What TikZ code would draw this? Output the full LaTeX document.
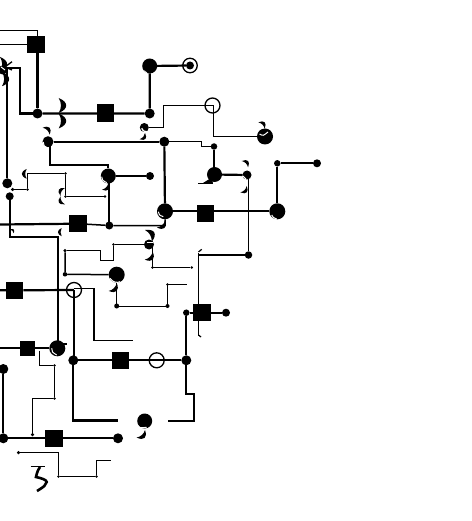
\documentclass[tikz,border=0pt]{standalone}
\usepackage{xcolor}
\usepackage{tikz}
\usetikzlibrary{shapes,arrows,positioning,calc}

\begin{document}
\begin{tikzpicture}[x=1pt,y=-1pt,
    sqbox/.style={fill=black,minimum size=17.5pt,inner sep=0pt,outer sep=0pt},
    bigdot/.style={circle,fill=black,minimum size=16pt,inner sep=0pt,outer sep=0pt},
    dot/.style={circle,fill=black,minimum size=10pt,inner sep=0pt,outer sep=0pt},
    smalldot/.style={circle,fill=black,minimum size=6.5pt,inner sep=0pt,outer sep=0pt},
    tinydot/.style={circle,fill=black,minimum size=2.6pt,inner sep=0pt,outer sep=0pt},
    ringnode/.style={circle,draw=black,line width=1.3pt,minimum size=15pt,inner sep=0pt,outer sep=0pt},
    heavy/.style={line width=2.2pt},
    medium/.style={line width=1.5pt},
    fine/.style={line width=1pt},
    glint/.style={white,line width=1pt},
    hook/.pic={\fill (0,0) .. controls (10,4) and (10,11) .. (0,15) .. controls (3,10) and (3,5) .. (0,0);}]
    \useasboundingbox (0,0) rectangle (471,521);
    % squares
    \node[sqbox] (sqa) at (36,44.5) {};
    \node[sqbox] (sqb) at (105.5,113) {};
    \node[sqbox] (sqc) at (78,223.7) {};
    \node[sqbox] (sqd) at (205.3,213.5) {};
    \node[sqbox] (sqe) at (14.7,290.3) {};
    \node[sqbox,minimum size=15pt] (sqf) at (27.3,348.3) {};
    \node[sqbox] (sqg) at (120.7,360.3) {};
    \node[sqbox] (sqh) at (202,312.7) {};
    \node[sqbox] (sqi) at (54,438.3) {};
    % dots
    \node[dot] (na) at (37.5,113.5) {};
    \node[dot] (nb) at (149.7,113.5) {};
    \node[bigdot,minimum size=15pt] (nc) at (149.7,66) {};
    \node[smalldot,minimum size=8pt] (nd) at (190,65.5) {};
    \node[ringnode,minimum size=14.5pt] (ne) at (190,65.5) {};
    \node[smalldot,minimum size=9pt] (nf) at (144.3,127.5) {};
    \node[ringnode] (ng) at (212.5,105.5) {};
    \node[bigdot] (nh) at (265,136.5) {};
    \node[dot,minimum size=11pt] (ni) at (48,141.7) {};
    \node[dot] (nj) at (164.3,141.7) {};
    \node[smalldot] (nk) at (214,146.5) {};
    \node[bigdot,minimum size=15pt] (nl) at (214.5,174.5) {};
    \node[dot,minimum size=9pt] (nm) at (247,175) {};
    \node[bigdot,minimum size=15pt] (nn) at (108.3,176) {};
    \node[smalldot,minimum size=8pt] (no) at (150,176) {};
    \node[dot] (np) at (7.3,183.3) {};
    \node[smalldot,minimum size=8pt] (nq) at (9.7,196.3) {};
    \node[bigdot] (nr) at (165,211.3) {};
    \node[bigdot] (ns) at (277.3,211.3) {};
    \node[smalldot] (nt) at (277.3,163.3) {};
    \node[smalldot,minimum size=8pt] (nu) at (317,163.3) {};
    \node[smalldot,minimum size=7.5pt] (nv) at (248.5,255) {};
    \node[dot,minimum size=8pt] (nw) at (109.3,225.5) {};
    \node[dot,minimum size=10pt] (nza) at (149,244.5) {};
    \node[bigdot] (nx) at (116.7,274.7) {};
    \node[ringnode] (ny) at (74,290) {};
    \node[bigdot] (nz) at (57.3,348.3) {};
    \node[dot] (oa) at (73.3,360.3) {};
    \node[dot] (ob) at (186.3,360.3) {};
    \node[ringnode] (oc) at (156.7,360.3) {};
    \node[smalldot] (od) at (186.3,312.7) {};
    \node[smalldot,minimum size=8pt] (oe) at (226,312.7) {};
    \node[smalldot,minimum size=5pt] (of) at (116.7,306) {};
    \node[smalldot,minimum size=4pt] (og) at (167.5,306) {};
    \node[bigdot,minimum size=15pt] (oh) at (144.7,421) {};
    \node[dot] (oi) at (3.3,369) {};
    \node[dot] (oj) at (3.3,438.3) {};
    \node[dot] (ok) at (118,438.3) {};
    \node[dot,minimum size=9pt] (ola) at (2.5,70) {};
    \node[tinydot,minimum size=3.5pt] (ol) at (18.5,452.5) {};
    \node[tinydot,minimum size=4.5pt] (om) at (65,274.3) {};
    \node[tinydot,minimum size=3.5pt] (op) at (65,250.7) {};
    \node[tinydot,minimum size=3.5pt] (oq) at (32.5,434.5) {};
    \node[tinydot] (or) at (65.5,173.5) {};
    \node[tinydot] (os) at (65.5,196.5) {};
    \node[tinydot] (ot) at (27.5,189.5) {};
    \node[tinydot,minimum size=3.5pt] (ou) at (12.7,189.5) {};
    \node[tinydot] (ov) at (105,196.5) {};
    \node[tinydot] (ow) at (113.5,244.5) {};
    \node[tinydot] (ox) at (152.5,267.5) {};
    \node[tinydot] (oy) at (191.7,267.5) {};
    \node[tinydot] (oz) at (167.5,284.5) {};
    \node[tinydot] (pa) at (96.5,476.5) {};
    \node[tinydot] (pb) at (58.5,476.5) {};
    \node[tinydot] (pc) at (54.5,398.5) {};
    \node[tinydot] (pd) at (54.5,365.5) {};
    % free ends
    \coordinate (ca) at (0,30.5);
    \coordinate (cb) at (0,44.5);
    \coordinate (cc) at (0,67.7);
    \coordinate (cd) at (0,224.5);
    \coordinate (ce) at (0,290.3);
    \coordinate (cf) at (0,348.3);
    \coordinate (cg) at (133.3,340.5);
    \coordinate (ch) at (118.3,420.5);
    \coordinate (ci) at (168.3,420.7);
    \coordinate (cj) at (198.5,253);
    \coordinate (ck) at (198.5,336);
    \coordinate (cl) at (186.7,284.5);
    \coordinate (cm) at (111,460.5);
    \coordinate (cn) at (39.5,350.7);
    % thick connectors
    \draw[fine] (ca) -| (sqa.north -| na);
    \draw[heavy] (sqa.south -| na) -- (na);
    \draw[fine] (cb) -- (sqa);
    \draw[heavy] (na) -| (20,67.7) -- (cc);
    \draw[heavy] (np |- cc) -- (np);
    \draw[heavy] (na) -- (nb) -- (nc) -- (nd);
    \draw[heavy] (ni) -- (nj);
    \draw[heavy] (nj) -- (nr);
    \draw[heavy] (nr) -- (ns) -- (nt) -- (nu);
    \draw[heavy] (49.7,141.7) -- (49.7,165) -| (nn);
    \draw[heavy] (nn) -- (no);
    \draw[heavy] (nw.north) -- (nw |- nn);
    \draw[heavy] (cd) -- (sqc);
    \draw[medium] (sqc) -- (nw) -- (165,225.5) -- (nr);
    \draw[heavy] (nq) |- (58.3,236.7) -- (58.3,348.3);
    \draw[heavy] (nz) -- (cf);
    \draw[heavy] (ce) -- (sqe) -- (ny.center);
    \draw[medium] (74,288.5) -- (94,288.5) -- (94,340.5) -- (cg);
    \draw[heavy] (ny.center) -- (ny.center |- oa) (oa) -- (ob);
    \draw[heavy] (oa) |- (ch);
    \draw[heavy] (ob) -- (186.3,394.3) -- (194,394.3) |- (ci);
    \draw[heavy] (ob) -- (od) -- (oe);
    \draw[heavy] (oi) -- (oj) -- (ok);
    \draw[heavy] (nl) -- (nm);
    \draw[heavy] (nk) -- (nk |- nl);
    % thinner connectors
    \draw[medium] (nj) -- (201.5,141.7) -- (201.5,146.5) -- (nk);
    \draw[medium] (nv |- nm) -- (nv) -- (cj |- nv);
    \draw[medium] (cj) -- (ck);
    \draw[medium] (op) -- (100.5,250.7) -- (100.5,260.5) -| (ow);
    \draw[fine] (ow) -- (nza);
    \draw[fine] (152.5,244.5) |- (oy);
    \draw[medium] (op) -- (om) -- (nx);
    \draw[medium] (nx) -- (of);
    \draw[fine] (of) -- (og) |- (cl);
    \draw[fine] (nf) -- (163.5,127.5) -- (163.5,105.5) -- (ng.center);
    \draw[fine] (213.5,105.5) |- (nh);
    \draw[fine] (ou) -- (ot) -- (27.5,173.5) -- (or) -- (os) -- (ov);
    \draw[fine] (cn) |- (pd) -- (pc) -- (32.5,398.5) -- (oq);
    \draw[fine] (ol) -| (pb) -- (pa) |- (cm);
    % hooks on the nodes
    \pic at (58.7,98) {hook};
    \pic at (58.7,113.5) {hook};
    \pic[scale=.95] at (0,57) {hook};
    \pic[scale=.95] at (2,72) {hook};
    \pic[rotate=-40,scale=.55] at (145,133) {hook};
    \pic[rotate=45,scale=.6] at (258.3,122.3) {hook};
    \pic[rotate=45,scale=.6] at (241.7,161) {hook};
    \pic[rotate=-45,scale=.6] at (246.7,186) {hook};
    \pic[rotate=-45,scale=.6] at (108.3,183.3) {hook};
    \pic[rotate=45,scale=.65] at (42.7,127.7) {hook};
    \pic[rotate=-30,xscale=-.6,yscale=.6] at (65,188) {hook};
    \pic[rotate=30,xscale=-.6,yscale=.6] at (60.5,196.5) {hook};
    \pic[xscale=-.65,yscale=.65] at (26.7,169) {hook};
    \pic[xscale=-.5,yscale=.55] at (61.7,228) {hook};
    \pic[rotate=45,scale=.35] at (10,229.5) {hook};
    \pic[rotate=30,scale=.9] at (145,230) {hook};
    \pic[rotate=-45,scale=.75] at (152.7,251.7) {hook};
    \pic[rotate=-50,scale=.7] at (165,220.7) {hook};
    \pic[rotate=-45,scale=.75] at (116.7,283) {hook};
    \pic[rotate=-48,scale=.75] at (145,430) {hook};
    \draw[line width=1.2pt] (198.5,252) -- (201.7,249.3);
    \draw[line width=1.2pt] (198.5,335) -- (201,337);
    \draw[line width=1.2pt] (62,344) -- (67,344);
    \draw[line width=1.3pt] (12,61.7) -- (5,67) -- (12,70);
    % loose figure at the bottom
    \draw[line width=1.4pt] (30.7,466.7) -- (45,466.7);
    \draw[line width=2.6pt] (40,467) .. controls (37.5,471) .. (36,477) .. controls (41,478) and (47,480) .. (46.7,482) .. controls (45,486) .. (37,491);
    % white marks on the dots
    \draw[glint,line width=.8pt] (144,70.7) -- (147,73);
    \draw[glint] (43.3,142) .. controls (44,146) .. (46.7,148);
    \draw[glint,line width=1.3pt] (141.7,128.3) .. controls (143,131) .. (146.7,131.7);
    \draw[glint] (259.5,134) .. controls (263,136) .. (268,132);
    \draw[glint] (206,176.7) .. controls (207,180) .. (211.7,181.7);
    \draw[glint] (243,176) -- (246,179);
    \draw[glint] (101.7,176.7) .. controls (102,180) .. (106.7,182.7);
    \draw[glint] (158.3,211.7) .. controls (159,215) .. (163.3,216.7);
    \draw[glint] (271.7,215) .. controls (273,217.5) .. (276.7,219);
    \draw[glint] (110,278.3) .. controls (113,282.5) and (117,283) .. (120,281.7);
    \draw[glint] (51.7,348.3) .. controls (52,352) .. (56.7,355);
    \draw[glint] (136.7,425) .. controls (140,428) .. (146.7,427.3);
    \draw[glint] (146.7,242.7) -- (153.3,242.7);
    \draw[glint] (1,67) -- (5,70);
    % wedge under the dot
    \fill (211,178) -- (203,183) -- (213,183) -- cycle;
    \draw[line width=.7pt] (198,183) -- (213,183);
\end{tikzpicture}
\end{document}
